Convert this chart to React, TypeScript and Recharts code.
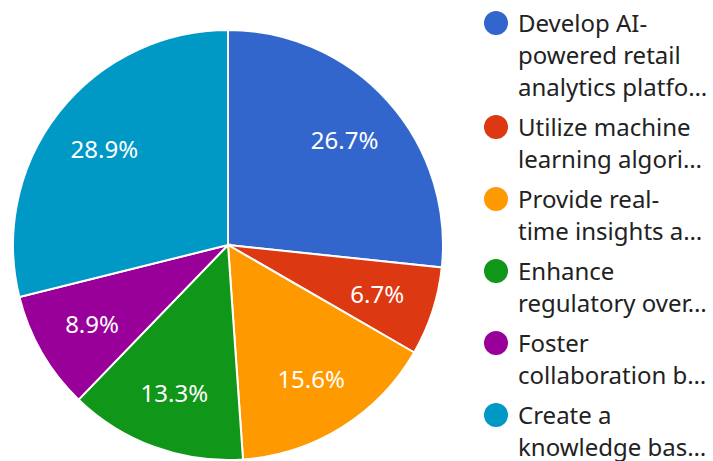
import { Cell, Legend, Pie, PieChart } from 'recharts'

const NAMES = [
  'Develop AI-\npowered retail\nanalytics platfo…',
  'Utilize machine\nlearning algori…',
  'Provide real-\ntime insights a…',
  'Enhance\nregulatory over…',
  'Foster\ncollaboration b…',
  'Create a\nknowledge bas…',
]
const COUNTS = [12, 3, 7, 6, 4, 13]
const COLORS = ['#3366cc', '#dc3912', '#ff9900', '#109618', '#990099', '#0099c6']

const data = NAMES.map((name, i) => ({ name, value: COUNTS[i] }))

const RADIAN = Math.PI / 180
const FONT = '"Noto Sans", sans-serif'

// percentage labels sit ~73% of the way out along each slice's middle
function renderLabel(props: any) {
  const { cx, cy, midAngle, outerRadius, percent } = props
  const r = outerRadius * 0.73
  const x = cx + r * Math.cos(-midAngle * RADIAN)
  const y = cy + r * Math.sin(-midAngle * RADIAN)
  return (
    <text
      x={x}
      y={y}
      fill="#ffffff"
      textAnchor="middle"
      dominantBaseline="central"
      fontFamily={FONT}
      fontSize={24}
    >
      {(percent * 100).toFixed(1)}%
    </text>
  )
}

function LegendList() {
  return (
    <div style={{ fontFamily: FONT, fontSize: 24, lineHeight: '32px', color: '#222' }}>
      {data.map((d, i) => (
        <div key={i} style={{ display: 'flex', marginBottom: 8 }}>
          <span
            style={{
              width: 24,
              height: 24,
              borderRadius: 12,
              background: COLORS[i],
              marginTop: 4,
              marginRight: 10,
              flexShrink: 0,
            }}
          />
          <span style={{ whiteSpace: 'pre' }}>{d.name}</span>
        </div>
      ))}
    </div>
  )
}

export default function App() {
  return (
    <div style={{ position: 'absolute', left: 0, top: 0, width: 713, height: 461, background: '#fff', overflow: 'hidden' }}>
      <PieChart width={713} height={461} margin={{ top: 0, right: 0, bottom: 0, left: 0 }}>
        <Pie
          data={data}
          dataKey="value"
          nameKey="name"
          cx={228}
          cy={245}
          outerRadius={215}
          startAngle={90}
          endAngle={-270}
          stroke="#ffffff"
          strokeWidth={2}
          label={renderLabel}
          labelLine={false}
          isAnimationActive={false}
        >
          {data.map((_, i) => (
            <Cell key={i} fill={COLORS[i]} />
          ))}
        </Pie>
        <Legend
          layout="vertical"
          verticalAlign="top"
          align="right"
          content={() => <LegendList />}
          wrapperStyle={{ left: 484, top: 7, width: 229 }}
        />
      </PieChart>
    </div>
  )
}
